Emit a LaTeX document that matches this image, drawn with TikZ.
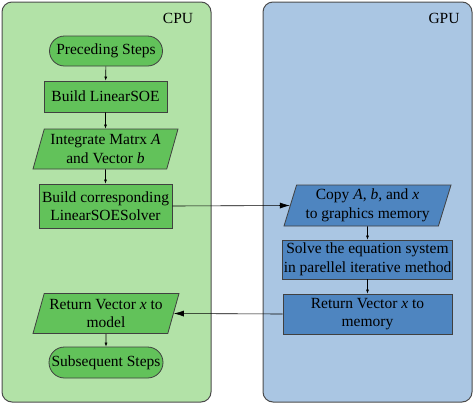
\documentclass[tikz,border=0pt]{standalone}
\usepackage{fontspec}
\setmainfont{Liberation Serif}
\usetikzlibrary{positioning, arrows.meta, shapes.geometric, shapes.misc}
\definecolor{cpuback}{HTML}{B2E2A7}
\definecolor{cpunode}{HTML}{62C25A}
\definecolor{gpuback}{HTML}{AAC6E3}
\definecolor{gpunode}{HTML}{4E85C0}

\begin{document}
\begin{tikzpicture}[x=1pt, y=-1pt, font=\fontsize{15.5}{18.5}\selectfont,
    panel/.style={draw=black!70, line width=1pt, rounded corners=10pt},
    cpubox/.style={draw=black!75, fill=cpunode, line width=0.8pt, align=center, inner sep=1pt},
    gpubox/.style={draw=black!75, fill=gpunode, line width=0.8pt, align=center, inner sep=1pt},
    stadium/.style={rounded rectangle, minimum width=115, minimum height=30},
    slanted/.style={trapezium, trapezium left angle=70, trapezium right angle=110,
        trapezium stretches body, minimum height=40},
    vline/.style={-{Latex[length=4pt, width=3pt]}, line width=0.6pt},
    hline/.style={-{Latex[length=10pt, width=6pt]}, line width=0.6pt}]
    \useasboundingbox (0,0) rectangle (474,405);

    % the two panels
    \draw[panel, fill=cpuback] (2,2) rectangle (211,402);
    \draw[panel, fill=gpuback] (263,2) rectangle (472,402);
    \node (cpu) at (178,18) {CPU};
    \node (gpu) at (444,18) {GPU};

    % CPU side
    \node[cpubox, stadium] (pre) at (106,51) {Preceding Steps};
    \node[cpubox, minimum width=123, minimum height=31] (soe) at (105.5,96.5) {Build LinearSOE};
    \node[cpubox, slanted, minimum width=145] (mat) at (105.5,149) {Integrate Matrx \textit{A}\\and Vector \textit{b}};
    \node[cpubox, minimum width=133, minimum height=44] (solver) at (105.5,206) {Build corresponding\\LinearSOESolver};
    \node[cpubox, slanted, minimum width=146] (model) at (106,313.5) {Return Vector \textit{x} to\\model};
    \node[cpubox, stadium, minimum width=116, minimum height=31] (post) at (106,362.5) {Subsequent Steps};

    % GPU side
    \node[gpubox, slanted, minimum width=167, minimum height=41] (copy) at (367.5,205.5) {Copy \textit{A}, \textit{b}, and \textit{x}\\to graphics memory};
    \node[gpubox, minimum width=169, minimum height=39] (solve) at (367.5,259.5) {Solve the equation system\\in parellel iterative method};
    \node[gpubox, minimum width=169, minimum height=40] (mem) at (367.5,314) {Return Vector \textit{x} to\\memory};

    % flow
    \draw[vline] (pre) -- (soe);
    \draw[vline] (soe) -- (mat);
    \draw[vline] (mat) -- (solver);
    \draw[vline] (model) -- (post);
    \draw[vline] (copy) -- (solve);
    \draw[vline] (solve) -- (mem);
    \draw[hline] (solver.east) -- (copy.west);
    \draw[hline] (mem.west) -- (model.east);
\end{tikzpicture}
\end{document}
